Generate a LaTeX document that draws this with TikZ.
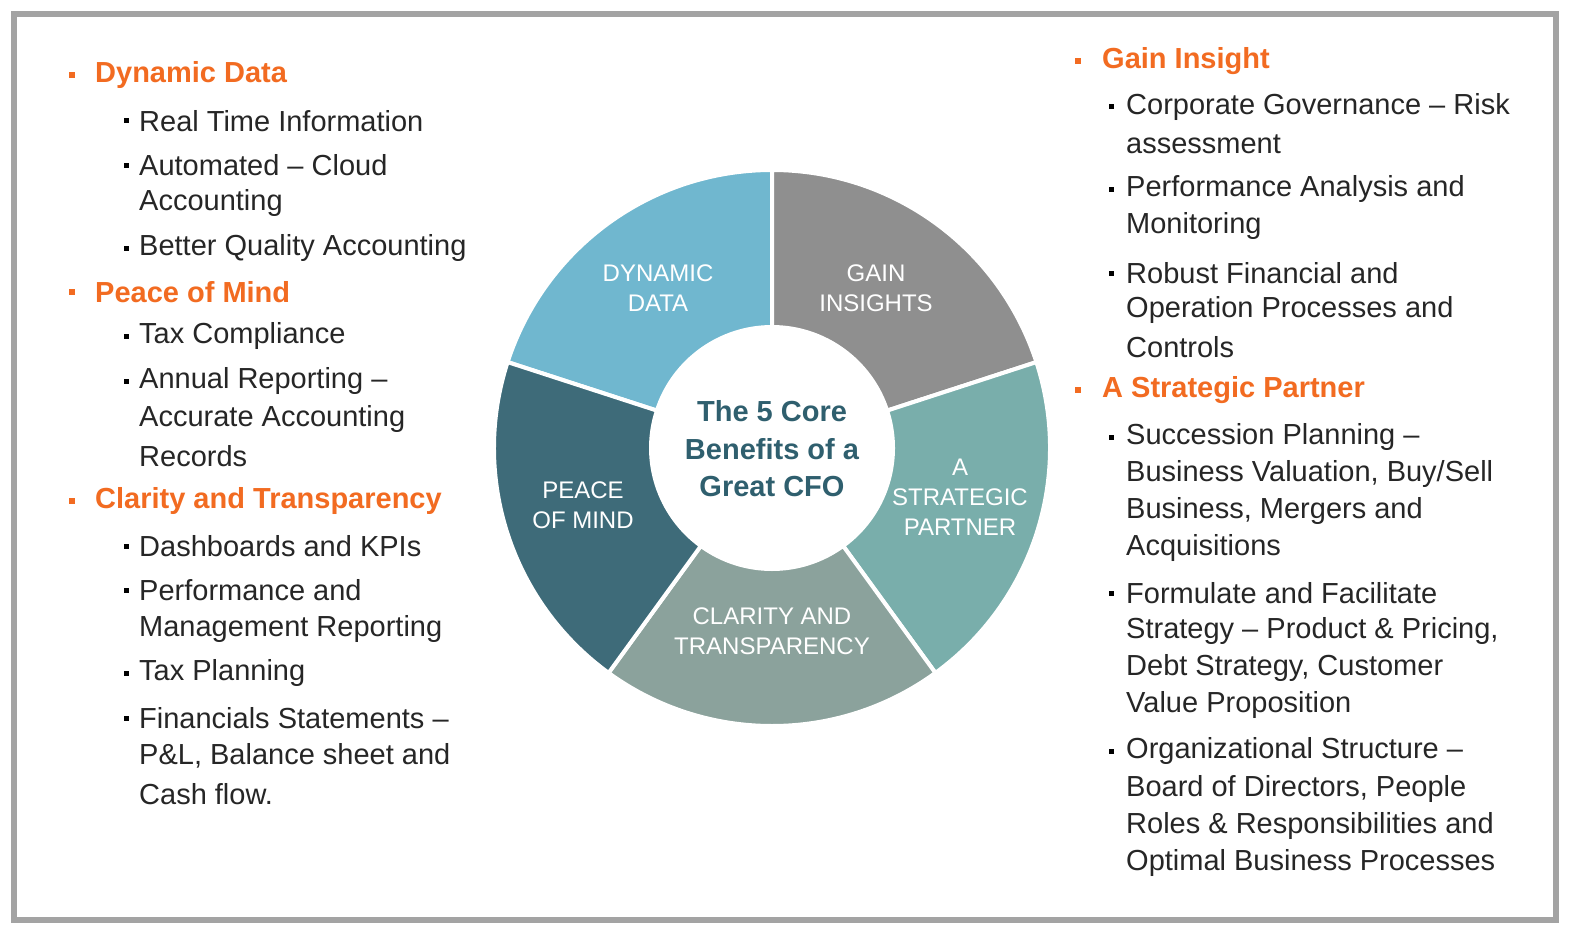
\documentclass[tikz,border=0pt]{standalone}
\usepackage{fontspec}
\usetikzlibrary{calc}
\setmainfont{Liberation Sans}
\definecolor{orng}{HTML}{F26B21}
\definecolor{cDyn}{HTML}{70B7CF}
\definecolor{cGain}{HTML}{8F8F8F}
\definecolor{cStr}{HTML}{79AEAB}
\definecolor{cCla}{HTML}{8BA29C}
\definecolor{cPea}{HTML}{3E6B79}
\definecolor{cTxt}{HTML}{2F5F6E}
\definecolor{frame}{HTML}{A3A3A3}
\tikzset{
  body/.style={anchor=west,inner sep=0pt,font=\fontsize{29}{34}\selectfont,text=black!85},
  head/.style={anchor=west,inner sep=0pt,font=\fontsize{29}{34}\selectfont\bfseries,text=orng},
  obul/.style={fill=orng,minimum size=6pt,inner sep=0pt},
  kbul/.style={fill=black,minimum size=5pt,inner sep=0pt},
  seg/.style={draw=white,line width=4pt},
  slab/.style={align=center,text=white,font=\fontsize{24}{30}\selectfont}
}
\newcommand{\tline}[4]{\node[body] (#1) at (#2,#3) {#4};}
\begin{document}
\begin{tikzpicture}[x=1pt,y=-1pt]
\useasboundingbox (0,0) rectangle (1584,939);
\fill[white] (0,0) rectangle (1584,939);
\draw[frame,line width=6pt] (14,14) rectangle (1556,920);
% donut
\coordinate (C) at (772,448);
\foreach \a/\b/\c in {90/162/cDyn,18/90/cGain,-54/18/cStr,-126/-54/cCla,162/234/cPea}{
  \filldraw[seg,fill=\c] ($(C)+(-\a:278)$) arc[start angle=-\a,end angle=-\b,radius=278]
    -- ($(C)+(-\b:121)$) arc[start angle=-\b,end angle=-\a,radius=121] -- cycle;
}
\node[circle,fill=white,minimum size=236pt,inner sep=0pt] (hub) at (C) {};
\node[align=center,text=cTxt,font=\fontsize{29}{37.5}\selectfont\bfseries] (hubtxt) at (772,449) {The 5 Core\\Benefits of a\\Great CFO};
\node[slab] (sDyn) at (658,288) {DYNAMIC\\DATA};
\node[slab] (sGain) at (876,288) {GAIN\\INSIGHTS};
\node[slab] (sStr) at (960,497) {A\\STRATEGIC\\PARTNER};
\node[slab] (sCla) at (772,631) {CLARITY AND\\TRANSPARENCY};
\node[slab] (sPea) at (583,505) {PEACE\\OF MIND};
% left list
\node[obul] (lb1) at (72,75) {}; \node[head] (lh1) at (95,75) {Dynamic Data};
\node[obul] (lb2) at (72,292) {}; \node[head] (lh2) at (95,292) {Peace of Mind};
\node[obul] (lb3) at (72,501) {}; \node[head] (lh3) at (95,501) {Clarity and Transparency};
\foreach \y [count=\i] in {121,165,248,336,381,546,590,673,718}{\node[kbul] (lk\i) at (126,\y) {};}
\tline{l1}{139}{121}{Real Time Information}
\tline{l2}{139}{165}{Automated -- Cloud}
\tline{l3}{139}{203}{Accounting}
\tline{l4}{139}{248}{Better Quality Accounting}
\tline{l5}{139}{336}{Tax Compliance}
\tline{l6}{139}{381}{Annual Reporting --}
\tline{l7}{139}{419}{Accurate Accounting}
\tline{l8}{139}{456}{Records}
\tline{l9}{139}{546}{Dashboards and KPIs}
\tline{l10}{139}{590}{Performance and}
\tline{l11}{139}{629}{Management Reporting}
\tline{l12}{139}{673}{Tax Planning}
\tline{l13}{139}{718}{Financials Statements --}
\tline{l14}{139}{756}{P\&L, Balance sheet and}
\tline{l15}{139}{794}{Cash flow.}
% right list
\node[obul] (rb1) at (1078,61) {}; \node[head] (rh1) at (1102,61) {Gain Insight};
\node[obul] (rb2) at (1078,390) {}; \node[head] (rh2) at (1102,390) {A Strategic Partner};
\foreach \y [count=\i] in {107,189,273,437,593,751}{\node[kbul] (rk\i) at (1111,\y) {};}
\tline{r1}{1126}{107}{Corporate Governance -- Risk}
\tline{r2}{1126}{144}{assessment}
\tline{r3}{1126}{189}{Performance Analysis and}
\tline{r4}{1126}{226}{Monitoring}
\tline{r5}{1126}{273}{Robust Financial and}
\tline{r6}{1126}{310}{Operation Processes and}
\tline{r7}{1126}{347}{Controls}
\tline{r8}{1126}{437}{Succession Planning --}
\tline{r9}{1126}{474}{Business Valuation, Buy/Sell}
\tline{r10}{1126}{511}{Business, Mergers and}
\tline{r11}{1126}{548}{Acquisitions}
\tline{r12}{1126}{593}{Formulate and Facilitate}
\tline{r13}{1126}{631}{Strategy -- Product \& Pricing,}
\tline{r14}{1126}{668}{Debt Strategy, Customer}
\tline{r15}{1126}{705}{Value Proposition}
\tline{r16}{1126}{751}{Organizational Structure --}
\tline{r17}{1126}{789}{Board of Directors, People}
\tline{r18}{1126}{826}{Roles \& Responsibilities and}
\tline{r19}{1126}{863}{Optimal Business Processes}
\end{tikzpicture}
\end{document}
